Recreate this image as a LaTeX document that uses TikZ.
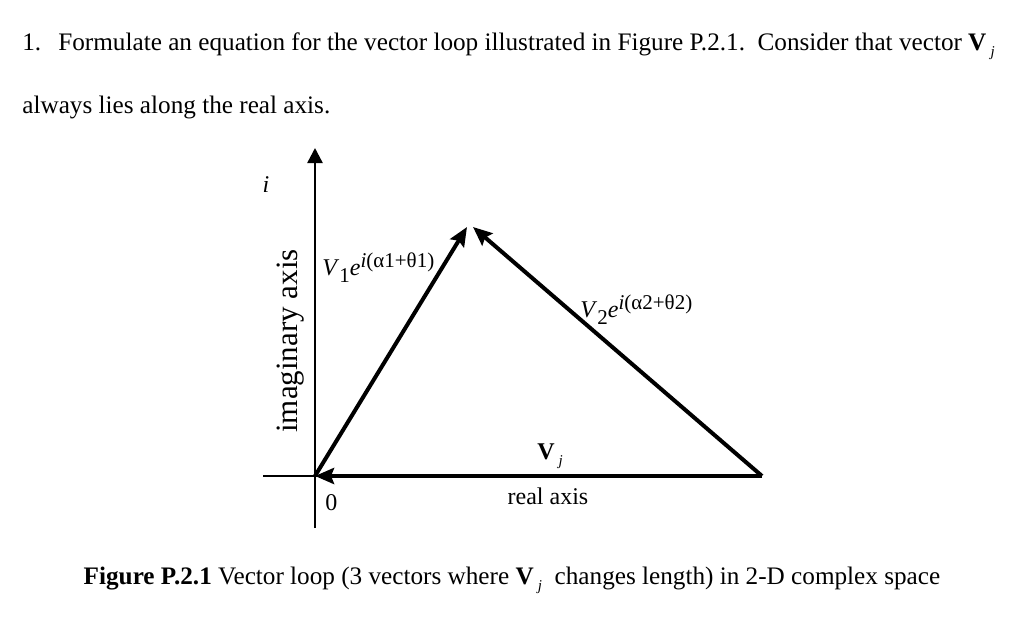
\documentclass[tikz,border=0pt]{standalone}
\usepackage{fontspec}
\setmainfont{Liberation Serif}
\usetikzlibrary{arrows.meta}
\newcommand{\Vbf}[1]{\textbf{V}\,\raisebox{-0.55ex}{\fontsize{7.5}{8}\selectfont\textit{#1}}}
\newcommand{\Vexp}[2]{\textit{V}\raisebox{-3.5pt}{\fontsize{10.5}{11}\selectfont #1}\textit{e}\raisebox{3.8pt}{\fontsize{10.5}{11}\selectfont\textit{i}(α#2+θ#2)}}

\begin{document}
\begin{tikzpicture}[x=0.5pt,y=-0.5pt,
    vec/.style={line width=2pt,-{Stealth[length=9.5pt,width=8pt,inset=1.5pt]}},
    axis/.style={line width=1.2pt},
    lbl/.style={inner sep=0pt,font=\fontsize{12}{14}\selectfont},
    body/.style={inner sep=0pt,anchor=base west,font=\fontsize{12.6}{15}\selectfont}]
    \useasboundingbox (0,0) rectangle (1024,621);
    % question text
    \node[body] (q1) at (22,50) {\makebox[18pt][l]{1.}Formulate an equation for the vector loop illustrated in Figure P.2.1.\ \ Consider that vector \Vbf{j}};
    \node[body] (q2) at (22,113) {always lies along the real axis.};
    % axes
    \coordinate (O) at (315,476);
    \coordinate (itop) at (315,148);
    \coordinate (ibot) at (315,528);
    \coordinate (rleft) at (263,476);
    \draw[axis,-{Triangle[length=7.5pt,width=7.5pt]}] (ibot)--(itop);
    \draw[axis] (rleft)--(O);
    % vector loop
    \coordinate (P) at (470,227);
    \coordinate (Q) at (762,476);
    \draw[vec] (O)--([xshift=-1.5pt]P);
    \draw[vec] (Q)--([xshift=1.5pt]P);
    \draw[vec] (Q)--(O);
    % labels
    \node[lbl,anchor=base] (ilab) at (266,192) {\textit{i}};
    \node[lbl,rotate=90,anchor=base,font=\fontsize{15.5}{17}\selectfont] (imlab) at (297,341) {imaginary axis};
    \node[lbl,anchor=base west] (v1) at (322,275) {\Vexp{1}{1}};
    \node[lbl,anchor=base west] (v2) at (580,317) {\Vexp{2}{2}};
    \node[lbl,anchor=base] (vj) at (550,459) {\Vbf{j}};
    \node[lbl,anchor=base west] (zero) at (325,510) {0};
    \node[lbl,anchor=base] (rlab) at (548,504) {real axis};
    % caption
    \node[body,anchor=base] (cap) at (512,584) {\textbf{Figure P.2.1} Vector loop (3 vectors where \Vbf{j}\ \ changes length) in 2-D complex space};
\end{tikzpicture}
\end{document}
